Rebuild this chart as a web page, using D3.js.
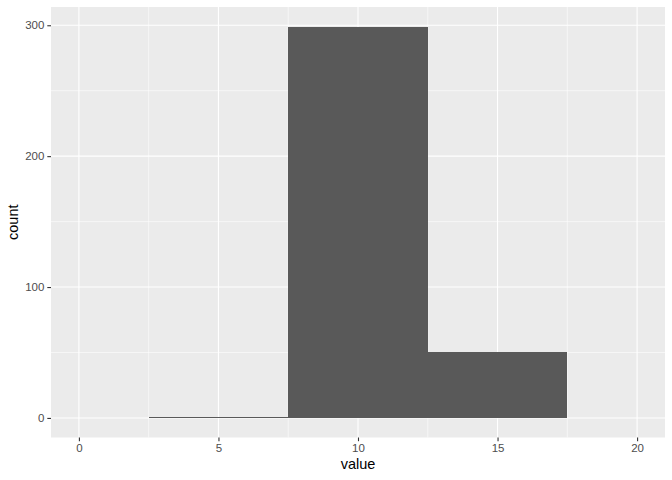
<!DOCTYPE html>
<html>
<head>
<script src="https://d3js.org/d3.v7.min.js"></script>
<style>
  body { margin: 0; background: #fff; }
  text { font-family: "Liberation Sans", Arial, Helvetica, sans-serif; }
</style>
</head>
<body>
<div id="chart"></div>
<script>
// histogram bins (binwidth 5, centred on multiples of 5)
var binStart = [-2.5, 2.5, 7.5, 12.5, 17.5];
var binEnd   = [2.5, 7.5, 12.5, 17.5, 22.5];
var counts   = [0, 1, 299, 50, 0];
var xTicks = [0, 5, 10, 15, 20];
var yTicks = [0, 100, 200, 300];

var width = 672, height = 480;
var margin = {top: 7, right: 7, bottom: 42.5, left: 51};

var svg = d3.select("#chart").append("svg")
  .attr("width", width).attr("height", height);

var pw = width - margin.left - margin.right;
var ph = height - margin.top - margin.bottom;

var ymax = d3.max(counts);
var x = d3.scaleLinear().domain([-1, 21]).range([0, pw]);
var y = d3.scaleLinear().domain([-0.05 * ymax, ymax * 1.05]).range([ph, 0]);

var g = svg.append("g").attr("transform", "translate(" + margin.left + "," + margin.top + ")");

g.append("rect").attr("width", pw).attr("height", ph).attr("fill", "#EBEBEB");

// minor grid
var xMinor = [2.5, 7.5, 12.5, 17.5];
var yMinor = [50, 150, 250];
g.selectAll(".xminor").data(xMinor).enter().append("line")
  .attr("x1", d => x(d)).attr("x2", d => x(d)).attr("y1", 0).attr("y2", ph)
  .attr("stroke", "#fff").attr("stroke-width", 0.55);
g.selectAll(".yminor").data(yMinor).enter().append("line")
  .attr("y1", d => y(d)).attr("y2", d => y(d)).attr("x1", 0).attr("x2", pw)
  .attr("stroke", "#fff").attr("stroke-width", 0.55);

// major grid
g.selectAll(".xmajor").data(xTicks).enter().append("line")
  .attr("x1", d => x(d)).attr("x2", d => x(d)).attr("y1", 0).attr("y2", ph)
  .attr("stroke", "#fff").attr("stroke-width", 1.1);
g.selectAll(".ymajor").data(yTicks).enter().append("line")
  .attr("y1", d => y(d)).attr("y2", d => y(d)).attr("x1", 0).attr("x2", pw)
  .attr("stroke", "#fff").attr("stroke-width", 1.1);

// bars
g.selectAll(".bar").data(counts).enter().append("rect")
  .attr("x", (d, i) => x(binStart[i]))
  .attr("width", (d, i) => x(binEnd[i]) - x(binStart[i]))
  .attr("y", d => y(d))
  .attr("height", d => y(0) - y(d))
  .attr("fill", "#595959")
  .attr("shape-rendering", "crispEdges");

// axes
var xAxis = g.append("g").attr("transform", "translate(0," + ph + ")")
  .call(d3.axisBottom(x).tickValues(xTicks).tickSize(3.7).tickPadding(3));
var yAxis = g.append("g")
  .call(d3.axisLeft(y).tickValues(yTicks).tickSize(3.7).tickPadding(3));
[xAxis, yAxis].forEach(function(a) {
  a.select(".domain").remove();
  a.selectAll("line").attr("stroke", "#333333").attr("stroke-width", 1.1);
  a.selectAll("text").attr("fill", "#4D4D4D").style("font-size", "11.5px");
});

svg.append("text")
  .attr("x", margin.left + pw / 2).attr("y", 469)
  .attr("text-anchor", "middle").style("font-size", "14.5px").attr("fill", "#000")
  .text("value");
svg.append("text")
  .attr("transform", "translate(18," + (margin.top + ph / 2) + ") rotate(-90)")
  .attr("text-anchor", "middle").style("font-size", "14.5px").attr("fill", "#000")
  .text("count");
</script>
</body>
</html>
